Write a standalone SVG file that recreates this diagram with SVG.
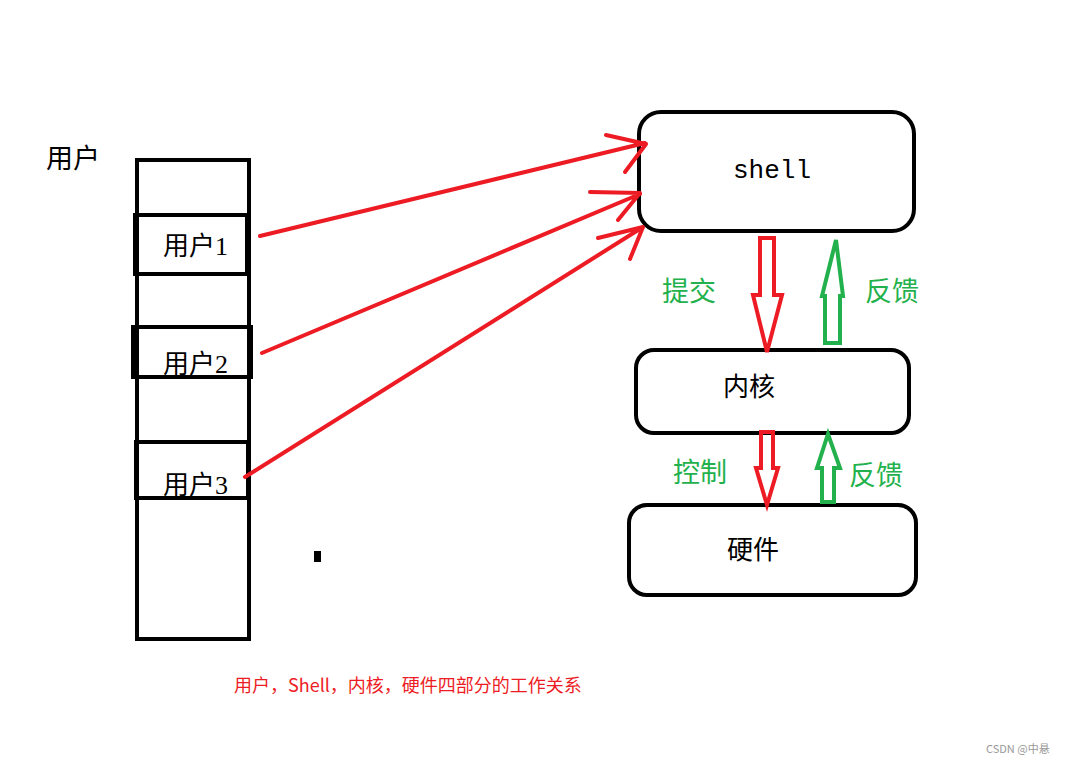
<svg xmlns="http://www.w3.org/2000/svg" width="1069" height="764" viewBox="0 0 1069 764">
<style>
.b{fill:none;stroke:#000;stroke-width:4}
.r{fill:none;stroke:#ed1c24;stroke-width:4;stroke-linecap:round;stroke-linejoin:round}
.g{fill:none;stroke:#22b14c;stroke-width:4;stroke-linejoin:miter}
.rh{fill:none;stroke:#ed1c24;stroke-width:4;stroke-linejoin:miter}
.t{font-family:"Liberation Serif","Noto Sans CJK SC",serif;font-size:26px;fill:#000}
.gt{font-family:"Noto Sans CJK SC",sans-serif;font-size:27px;fill:#22b14c}
</style>
<rect width="1069" height="764" fill="#fff"/>
<text x="46" y="168" class="t" style="font-family:'Noto Sans CJK SC',sans-serif;font-size:27px">用户</text>
<g id="stack">
<rect class="b" x="137" y="160" width="112" height="479"/>
</g>
<g id="user1"><rect class="b" x="135" y="215" width="112" height="59"/><text class="t" x="163" y="255">用户1</text></g>
<g id="user2"><rect class="b" x="133" y="327" width="118" height="50"/><rect x="131" y="327" width="5" height="50" fill="#000"/><text class="t" x="163" y="373">用户2</text></g>
<g id="user3"><rect class="b" x="136" y="442" width="112" height="56"/><text class="t" x="163" y="494">用户3</text></g>
<rect x="314" y="551" width="7" height="11" fill="#000"/>
<g id="shell"><rect class="b" x="639" y="112" width="275" height="119" rx="22"/><text class="t" x="733" y="178" style="font-family:'Liberation Mono',monospace">shell</text></g>
<g id="kernel"><rect class="b" x="636" y="350" width="273" height="83" rx="18"/><text class="t" x="723" y="396" style="font-family:'Noto Sans CJK SC',sans-serif">内核</text></g>
<g id="hw"><rect class="b" x="629" y="505" width="287" height="90" rx="18"/><text class="t" x="727" y="559" style="font-family:'Noto Sans CJK SC',sans-serif">硬件</text></g>
<g id="connectors">
<path class="r" d="M260 236 L645 143 M606 135 L646 144 L625 172"/>
<path class="r" d="M262 353 L640 194 M590 192 L640 193 L618 220"/>
<path class="r" d="M245 477 L643 227 M598 238 L643 227 L630 259"/>
<path class="rh" d="M760 238 H774 V295 H782 L767 352 L753 295 H760 Z"/>
<path class="g" d="M825 343 H840 V296 H843 L836 240 L822 296 H825 Z"/>
<path class="rh" d="M761 432 H773 V468 H778 L767 505 L756 468 H761 Z"/>
<path class="g" d="M822 502 H834 V468 H840 L828 434 L817 468 H822 Z"/>
</g>
<text class="gt" x="662" y="301">提交</text>
<text class="gt" x="865" y="301">反馈</text>
<text class="gt" x="673" y="482">控制</text>
<text class="gt" x="849" y="485">反馈</text>
<text x="234" y="692" style="font-family:'Noto Sans CJK SC',sans-serif;font-size:18px;fill:#ed1c24">用户，Shell，内核，硬件四部分的工作关系</text>
<text x="986" y="753" style="font-family:'Noto Sans CJK SC',sans-serif;font-size:11px;fill:#999">CSDN @中悬</text>
</svg>
